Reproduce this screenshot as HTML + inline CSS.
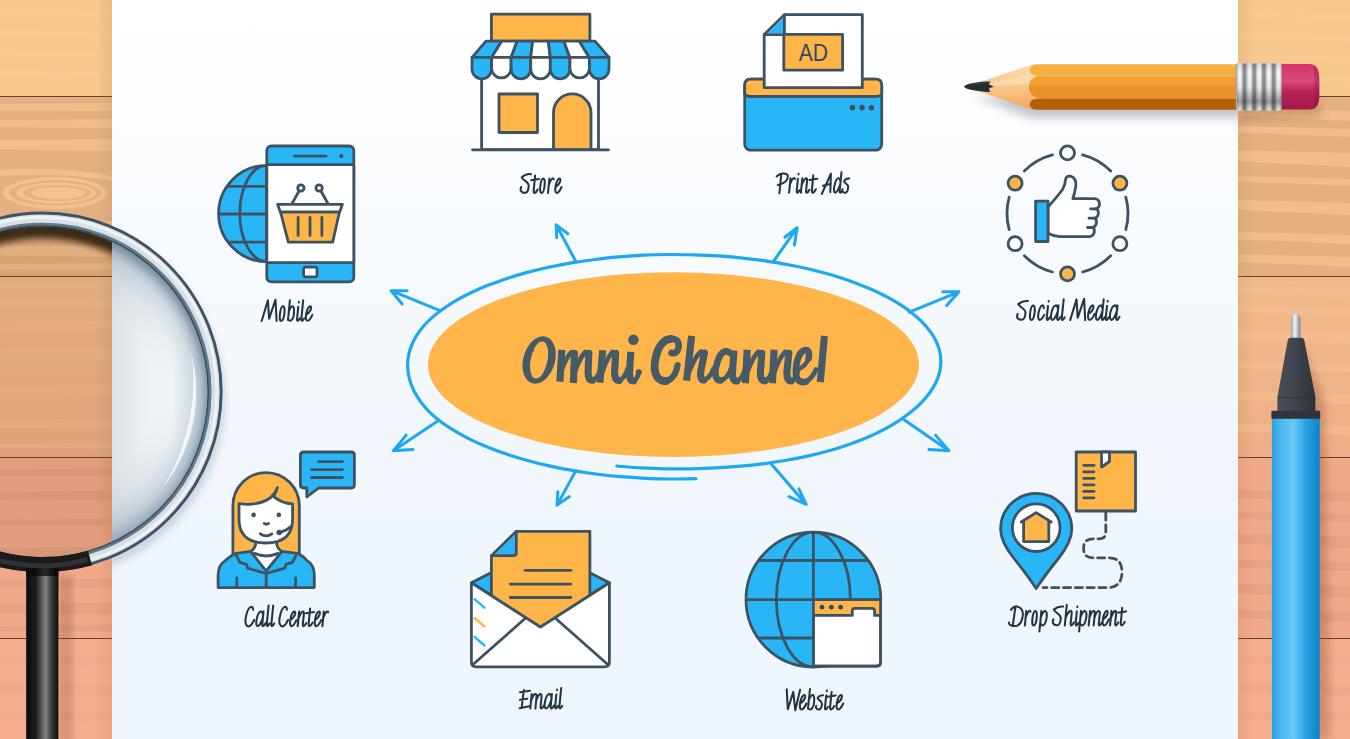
<!DOCTYPE html>
<html><head><meta charset="utf-8"><title>Omni Channel</title>
<style>
html,body{margin:0;padding:0;background:#f3b98a;overflow:hidden}
body{width:1350px;height:739px;font-family:"Liberation Sans",sans-serif}
svg{display:block}
.k{stroke:#3d5363;stroke-width:2.8;stroke-linecap:round;stroke-linejoin:round}
.o{fill:#ffb547}.b{fill:#29b6f6}.w{fill:#fff}.n{fill:none}
.ar{stroke:#1fa8f1;stroke-width:3;fill:none;stroke-linecap:round;stroke-linejoin:round}
</style></head><body>
<svg width="1350" height="739" viewBox="0 0 1350 739">
<defs>
<linearGradient id="paper" x1="0" y1="0" x2="0" y2="1">
<stop offset="0" stop-color="#ffffff"/><stop offset="0.3" stop-color="#f8fbfe"/><stop offset="0.6" stop-color="#f1f7fd"/><stop offset="1" stop-color="#eef5fd"/>
</linearGradient>
<linearGradient id="p3" x1="0" y1="0" x2="0" y2="1"><stop offset="0" stop-color="#f1bb8b"/><stop offset="1" stop-color="#f0ad87"/></linearGradient>
<linearGradient id="edgeL" x1="0" y1="0" x2="1" y2="0"><stop offset="0" stop-color="#a86b3c" stop-opacity="0"/><stop offset="1" stop-color="#a86b3c" stop-opacity="0.14"/></linearGradient>
<linearGradient id="edgeR" x1="1" y1="0" x2="0" y2="0"><stop offset="0" stop-color="#a86b3c" stop-opacity="0"/><stop offset="1" stop-color="#a86b3c" stop-opacity="0.14"/></linearGradient>
<clipPath id="paperclip"><rect x="112" y="0" width="1126" height="739"/></clipPath>
<clipPath id="woodL"><rect x="0" y="0" width="112" height="739"/></clipPath>
<clipPath id="woodR"><rect x="1238" y="0" width="112" height="739"/></clipPath>
</defs>
<rect x="0" y="0.0" width="1350" height="96.5" fill="#f7c78d"/>
<rect x="0" y="96.5" width="1350" height="180.0" fill="#e5b081"/>
<rect x="0" y="276.5" width="1350" height="181.0" fill="url(#p3)"/>
<rect x="0" y="457.5" width="1350" height="181.0" fill="#f1a98a"/>
<rect x="0" y="638.5" width="1350" height="100.5" fill="#f6ad8e"/>
<g clip-path="url(#woodL)">
<path d="M0 10.0 L112 11.5 L112 16.5 L0 14.0 Z" fill="#fad29c" opacity="0.30"/>
<path d="M0 30.0 L112 31.5 L112 38.5 L0 35.6 Z" fill="#fad29c" opacity="0.30"/>
<path d="M0 52.0 L112 53.5 L112 57.5 L0 55.2 Z" fill="#fad29c" opacity="0.30"/>
<path d="M0 70.0 L112 71.5 L112 79.5 L0 76.4 Z" fill="#fad29c" opacity="0.30"/>
<path d="M0 104.0 L112 103.0 L112 111.0 L0 110.4 Z" fill="#f3c28f" opacity="0.75"/>
<path d="M0 120.0 L112 119.0 L112 128.0 L0 127.2 Z" fill="#f3c28f" opacity="0.75"/>
<path d="M0 140.0 L112 139.0 L112 151.0 L0 149.6 Z" fill="#f3c28f" opacity="0.75"/>
<path d="M0 222.0 L112 221.0 L112 230.0 L0 229.2 Z" fill="#f3c28f" opacity="0.75"/>
<path d="M0 246.0 L112 245.0 L112 257.0 L0 255.6 Z" fill="#f3c28f" opacity="0.75"/>
<path d="M0 264.0 L112 263.0 L112 270.0 L0 269.6 Z" fill="#f3c28f" opacity="0.75"/>
<path d="M0 284.0 L112 282.5 L112 289.5 L0 289.6 Z" fill="#f6c495" opacity="0.45"/>
<path d="M0 300.0 L112 298.5 L112 308.5 L0 308.0 Z" fill="#f6c495" opacity="0.45"/>
<path d="M0 322.0 L112 320.5 L112 328.5 L0 328.4 Z" fill="#f6c495" opacity="0.45"/>
<path d="M0 350.0 L112 348.5 L112 360.5 L0 359.6 Z" fill="#f6c495" opacity="0.45"/>
<path d="M0 386.0 L112 384.5 L112 393.5 L0 393.2 Z" fill="#f6c495" opacity="0.45"/>
<path d="M0 420.0 L112 418.5 L112 428.5 L0 428.0 Z" fill="#f6c495" opacity="0.45"/>
<path d="M0 444.0 L112 442.5 L112 448.5 L0 448.8 Z" fill="#f6c495" opacity="0.45"/>
<path d="M0 470.0 L112 468.5 L112 476.5 L0 476.4 Z" fill="#d9957a" opacity="0.42"/>
<path d="M0 492.0 L112 490.5 L112 500.5 L0 500.0 Z" fill="#d9957a" opacity="0.42"/>
<path d="M0 520.0 L112 518.5 L112 525.5 L0 525.6 Z" fill="#d9957a" opacity="0.42"/>
<path d="M0 548.0 L112 546.5 L112 556.5 L0 556.0 Z" fill="#d9957a" opacity="0.42"/>
<path d="M0 580.0 L112 578.5 L112 587.5 L0 587.2 Z" fill="#d9957a" opacity="0.42"/>
<path d="M0 604.0 L112 602.5 L112 614.5 L0 613.6 Z" fill="#d9957a" opacity="0.42"/>
<path d="M0 626.0 L112 624.5 L112 631.5 L0 631.6 Z" fill="#d9957a" opacity="0.42"/>
<path d="M0 656.0 L112 657.5 L112 665.5 L0 662.4 Z" fill="#ea9f83" opacity="0.30"/>
<path d="M0 684.0 L112 685.5 L112 695.5 L0 692.0 Z" fill="#ea9f83" opacity="0.30"/>
<path d="M0 712.0 L112 713.5 L112 721.5 L0 718.4 Z" fill="#ea9f83" opacity="0.30"/>
</g>
<g clip-path="url(#woodR)">
<path d="M1238 13.0 L1350 14.5 L1350 19.5 L1238 17.0 Z" fill="#fad29c" opacity="0.30"/>
<path d="M1238 33.0 L1350 34.5 L1350 41.5 L1238 38.6 Z" fill="#fad29c" opacity="0.30"/>
<path d="M1238 55.0 L1350 56.5 L1350 60.5 L1238 58.2 Z" fill="#fad29c" opacity="0.30"/>
<path d="M1238 73.0 L1350 74.5 L1350 82.5 L1238 79.4 Z" fill="#fad29c" opacity="0.30"/>
<path d="M1238 108.0 L1350 111.0 L1350 121.0 L1238 116.0 Z" fill="#f3c28f" opacity="0.75"/>
<path d="M1238 126.0 L1350 129.0 L1350 137.0 L1238 132.4 Z" fill="#f3c28f" opacity="0.75"/>
<path d="M1238 150.0 L1350 153.0 L1350 167.0 L1238 161.2 Z" fill="#f3c28f" opacity="0.75"/>
<path d="M1238 176.0 L1350 179.0 L1350 186.0 L1238 181.6 Z" fill="#f3c28f" opacity="0.75"/>
<path d="M1238 200.0 L1350 203.0 L1350 215.0 L1238 209.6 Z" fill="#f3c28f" opacity="0.75"/>
<path d="M1238 232.0 L1350 235.0 L1350 244.0 L1238 239.2 Z" fill="#f3c28f" opacity="0.75"/>
<path d="M1238 254.0 L1350 257.0 L1350 267.0 L1238 262.0 Z" fill="#f3c28f" opacity="0.75"/>
<path d="M1238 286.0 L1350 288.0 L1350 297.0 L1238 293.2 Z" fill="#f6c495" opacity="0.45"/>
<path d="M1238 306.0 L1350 308.0 L1350 315.0 L1238 311.6 Z" fill="#f6c495" opacity="0.45"/>
<path d="M1238 330.0 L1350 332.0 L1350 344.0 L1238 339.6 Z" fill="#f6c495" opacity="0.45"/>
<path d="M1238 362.0 L1350 364.0 L1350 372.0 L1238 368.4 Z" fill="#f6c495" opacity="0.45"/>
<path d="M1238 392.0 L1350 394.0 L1350 404.0 L1238 400.0 Z" fill="#f6c495" opacity="0.45"/>
<path d="M1238 424.0 L1350 426.0 L1350 435.0 L1238 431.2 Z" fill="#f6c495" opacity="0.45"/>
<path d="M1238 490.0 L1350 492.0 L1350 502.0 L1238 498.0 Z" fill="#d9957a" opacity="0.42"/>
<path d="M1238 512.0 L1350 514.0 L1350 522.0 L1238 518.4 Z" fill="#d9957a" opacity="0.42"/>
<path d="M1238 534.0 L1350 536.0 L1350 548.0 L1238 543.6 Z" fill="#d9957a" opacity="0.42"/>
<path d="M1238 560.0 L1350 562.0 L1350 571.0 L1238 567.2 Z" fill="#d9957a" opacity="0.42"/>
<path d="M1238 584.0 L1350 586.0 L1350 598.0 L1238 593.6 Z" fill="#d9957a" opacity="0.42"/>
<path d="M1238 610.0 L1350 612.0 L1350 622.0 L1238 618.0 Z" fill="#d9957a" opacity="0.42"/>
<path d="M1238 656.0 L1350 657.5 L1350 665.5 L1238 662.4 Z" fill="#ea9f83" opacity="0.30"/>
<path d="M1238 684.0 L1350 685.5 L1350 695.5 L1238 692.0 Z" fill="#ea9f83" opacity="0.30"/>
<path d="M1238 712.0 L1350 713.5 L1350 721.5 L1238 718.4 Z" fill="#ea9f83" opacity="0.30"/>
</g>
<ellipse cx="55" cy="193" rx="52" ry="16" fill="#f3c391" opacity="0.9"/>
<ellipse cx="55" cy="193" rx="46" ry="12.5" fill="#e5b081"/>
<ellipse cx="56" cy="193" rx="40" ry="10.5" fill="#f3c391" opacity="0.95"/>
<ellipse cx="57" cy="193" rx="34" ry="8" fill="#e7b384"/>
<ellipse cx="58" cy="193" rx="27" ry="6" fill="#f3c391"/>
<path d="M0 170 Q60 166 112 176 L112 181 Q60 172 0 176 Z" fill="#f3c391" opacity="0.8"/>
<g stroke="#4a2e1c" stroke-width="1.1" opacity="0.85">
<line x1="0" y1="96.5" x2="1350" y2="96.5"/><line x1="0" y1="276.5" x2="1350" y2="276.5"/><line x1="0" y1="457.5" x2="1350" y2="457.5"/><line x1="0" y1="638.5" x2="1350" y2="638.5"/>
</g>
<rect x="96" y="0" width="16" height="739" fill="url(#edgeL)"/>
<rect x="1238" y="0" width="16" height="739" fill="url(#edgeR)"/>
<rect x="112" y="0" width="1126" height="739" fill="url(#paper)"/>
<defs>
<clipPath id="lensclip"><circle cx="42.4" cy="391.8" r="165.5"/></clipPath>
<clipPath id="lensWoodClip"><rect x="-10" y="200" width="122" height="400"/></clipPath>
<clipPath id="lensPaperClip"><rect x="112" y="200" width="130" height="400"/></clipPath>
<radialGradient id="lensPaper" cx="42.4" cy="391.8" r="165.5" gradientUnits="userSpaceOnUse">
<stop offset="0" stop-color="#ffffff"/><stop offset="0.66" stop-color="#fbfcfe"/><stop offset="0.8" stop-color="#eef2f6"/><stop offset="0.9" stop-color="#d3dde5"/><stop offset="0.96" stop-color="#b3c2ce"/><stop offset="1" stop-color="#9aacba"/>
</radialGradient>
<linearGradient id="lensEdge" x1="0" y1="0" x2="1" y2="0"><stop offset="0" stop-color="#8fa1af" stop-opacity="0.3"/><stop offset="1" stop-color="#8fa1af" stop-opacity="0"/></linearGradient>
<linearGradient id="handleG" x1="0" y1="0" x2="1" y2="0">
<stop offset="0" stop-color="#0b0b0c"/><stop offset="0.3" stop-color="#1b1c1e"/><stop offset="0.6" stop-color="#808286"/><stop offset="0.78" stop-color="#3a3b3e"/><stop offset="1" stop-color="#0d0d0e"/>
</linearGradient>
<linearGradient id="blackRingG" x1="0" y1="0" x2="1" y2="0" gradientUnits="userSpaceOnUse" x2_="95"><stop offset="0" stop-color="#1a1a1c"/><stop offset="0.55" stop-color="#3a3a3d"/><stop offset="1" stop-color="#1c1c1e"/></linearGradient>
<filter id="blur4" x="-20%" y="-20%" width="140%" height="140%"><feGaussianBlur stdDeviation="4"/></filter>
<filter id="blur6" x="-20%" y="-50%" width="140%" height="200%"><feGaussianBlur stdDeviation="5"/></filter>
<filter id="blur2" x="-20%" y="-20%" width="140%" height="140%"><feGaussianBlur stdDeviation="2"/></filter>
<filter id="blur1" x="-50%" y="-10%" width="200%" height="120%"><feGaussianBlur stdDeviation="0.7"/></filter>
<filter id="blur3" x="-10%" y="-10%" width="120%" height="120%"><feGaussianBlur stdDeviation="3.2"/></filter>
</defs>
<g id="magnifier">
<circle cx="46.4" cy="399.8" r="172.8" fill="none" stroke="#6b7f92" stroke-width="10" opacity="0.32" filter="url(#blur4)" clip-path="url(#paperclip)"/>
<g clip-path="url(#lensclip)">
<rect x="-10" y="200" width="122" height="400" fill="#7a4a24" opacity="0.13"/>
<rect x="112" y="200" width="130" height="400" fill="url(#lensPaper)"/>
<rect x="112" y="200" width="60" height="400" fill="url(#lensEdge)"/>
<g clip-path="url(#lensWoodClip)"><circle cx="42.4" cy="401.8" r="176.5" fill="none" stroke="#120a04" stroke-width="26" opacity="0.8" filter="url(#blur3)"/></g>
<g clip-path="url(#lensPaperClip)"><circle cx="40.4" cy="397.8" r="172.5" fill="none" stroke="#4f6679" stroke-width="14" opacity="0.38" filter="url(#blur3)"/></g>
<path d="M191.0 352.0 L192.8 359.8 L194.3 367.7 L195.4 375.7 L196.0 383.8 L196.2 391.8 L196.0 399.8 L195.4 407.9 L194.3 415.9 L192.8 423.8 L191.0 431.6 L188.7 439.3 L186.0 446.9 L182.9 454.4 L179.4 461.6 L175.6 468.7 L171.4 475.6 L166.8 482.2 L161.9 488.6 L161.9 488.6 L166.2 481.8 L170.2 474.8 L173.8 467.6 L177.0 460.4 L180.0 453.0 L182.6 445.6 L184.9 438.1 L187.0 430.5 L188.7 422.9 L190.2 415.2 L191.4 407.5 L192.4 399.7 L193.0 391.8 L193.3 383.9 L193.3 375.9 L192.9 368.0 L192.1 360.0 L191.0 352.0 Z" fill="#fff" opacity="0.78" filter="url(#blur1)"/>
</g>
<circle cx="42.4" cy="391.8" r="172.85" fill="none" stroke="#3f5366" stroke-width="14.7"/>
<circle cx="42.4" cy="391.8" r="167.30" fill="none" stroke="#62798a" stroke-width="3.6"/>
<circle cx="42.4" cy="391.8" r="173.20" fill="none" stroke="#d9e0e5" stroke-width="8.2"/>
<circle cx="42.4" cy="391.8" r="174.50" fill="none" stroke="#f3f6f8" stroke-width="3" opacity="0.8"/>
<circle cx="42.4" cy="391.8" r="165.90" fill="none" stroke="#2b3a46" stroke-width="1.2" opacity="0.8"/>
<path d="M90.0 558.0 A172.85 172.85 0 0 1 -22.4 552.1" fill="none" stroke="#1b1b1d" stroke-width="15.3"/>
<path d="M87.4 559.7 A173.85 173.85 0 0 1 -22.7 553.0" fill="none" stroke="#38383b" stroke-width="5" opacity="0.8"/>
<rect x="59" y="575" width="13" height="170" fill="#7a4a2c" opacity="0.28" filter="url(#blur4)"/>
<rect x="26.2" y="568" width="32.2" height="180" fill="url(#handleG)"/>
<rect x="26.2" y="568" width="32.2" height="8" fill="#0a0a0b" opacity="0.75"/>
</g>
<defs>
<linearGradient id="ferG" x1="0" y1="0" x2="0" y2="1">
<stop offset="0" stop-color="#c9cdd0"/><stop offset="0.25" stop-color="#f7f8f9"/><stop offset="0.55" stop-color="#b9bdc1"/><stop offset="0.85" stop-color="#8e9397"/><stop offset="1" stop-color="#b4b8bb"/>
</linearGradient>
<linearGradient id="eraG" x1="0" y1="0" x2="0" y2="1">
<stop offset="0" stop-color="#d4336b"/><stop offset="0.38" stop-color="#d94a7c"/><stop offset="0.6" stop-color="#b92257"/><stop offset="1" stop-color="#a01a49"/>
</linearGradient>
<linearGradient id="coneG" x1="0" y1="0" x2="0" y2="1">
<stop offset="0" stop-color="#fcdcae"/><stop offset="0.45" stop-color="#fac98e"/><stop offset="1" stop-color="#f0a75f"/>
</linearGradient>
<linearGradient id="ridgeG" x1="0" y1="0" x2="1" y2="0"><stop offset="0" stop-color="#8f9396"/><stop offset="0.3" stop-color="#e4e6e8"/><stop offset="0.55" stop-color="#ffffff"/><stop offset="0.8" stop-color="#d9dcde"/><stop offset="1" stop-color="#8f9396"/></linearGradient>
<linearGradient id="ferShade" x1="0" y1="0" x2="0" y2="1"><stop offset="0" stop-color="#000" stop-opacity="0.12"/><stop offset="0.2" stop-color="#000" stop-opacity="0"/><stop offset="0.5" stop-color="#000" stop-opacity="0.05"/><stop offset="0.82" stop-color="#000" stop-opacity="0.38"/><stop offset="1" stop-color="#000" stop-opacity="0.08"/></linearGradient>
</defs>
<g id="pencil">
<!-- shadow -->
<path d="M975 97 L1032 118 L1238 118 L1238 97 Z" fill="#858c96" opacity="0.5" filter="url(#blur6)" clip-path="url(#paperclip)"/>
<path d="M1238 100 L1318 100 L1322 116 L1238 120 Z" fill="#8a5a34" opacity="0.35" filter="url(#blur6)"/>
<!-- cone -->
<path d="M965 86.8 L1031 64.8 L1044 64.8 L1044 109.3 L1031 109.3 Z" fill="url(#coneG)"/>
<path d="M990 83 L1040 72 L1040 84 L990 86 Z" fill="#fff" opacity="0.22"/>
<path d="M963.8 86.8 Q965.5 83.5 982 81.8 L990.5 81.4 L988.6 84.3 L993.7 86.6 L988.8 88.6 L990.2 91.9 L982 91.5 Q966 90 963.8 86.8 Z" fill="#262b30"/>
<path d="M968 85 Q976 83.2 986 83" stroke="#4a5056" stroke-width="1.2" fill="none" opacity="0.7"/>
<!-- body -->
<path d="M1237.2 64.3 L1036.5 64.3 Q1029.8 64.8 1029.8 70 Q1029.8 75.3 1036.5 75.8 L1237.2 75.8 Z" fill="#f6b042"/>
<path d="M1237.2 75.8 L1040 75.8 Q1028.9 78 1028.9 87.2 Q1028.9 96.5 1040 98.7 L1237.2 98.7 Z" fill="#ea912b"/>
<path d="M1237.2 75.8 L1040 75.8 Q1030.5 77.6 1029.2 85.6 L1237.2 85.6 Z" fill="#f3a030"/>
<path d="M1237.2 98.7 L1036.5 98.7 Q1029.8 99.2 1029.8 104.2 Q1029.8 109.2 1036.5 109.7 L1237.2 109.7 Z" fill="#b26007"/>
<line x1="1040" y1="76" x2="1237" y2="76" stroke="#f8c463" stroke-width="1" opacity="0.8"/>
<!-- ferrule -->
<rect x="1237" y="63.6" width="44.8" height="46.6" fill="#8d9194"/>
<rect x="1235.8" y="63.2" width="7.6" height="47.4" rx="1.5" fill="url(#ridgeG)"/>
<rect x="1245.5" y="63.2" width="7.6" height="47.4" rx="1.5" fill="url(#ridgeG)"/>
<rect x="1255.2" y="63.2" width="7.6" height="47.4" rx="1.5" fill="url(#ridgeG)"/>
<rect x="1264.9" y="63.2" width="7.6" height="47.4" rx="1.5" fill="url(#ridgeG)"/>
<rect x="1274.6" y="63.2" width="7.6" height="47.4" rx="1.5" fill="url(#ridgeG)"/>
<rect x="1237" y="63.6" width="44.8" height="46.6" fill="url(#ferShade)"/>
<!-- eraser -->
<path d="M1281.7 63.9 L1311 63.9 Q1319.3 66 1319.3 78 L1319.3 96 Q1319.3 108 1311 109.6 L1281.7 109.6 Z" fill="url(#eraG)"/>
<path d="M1313 64.3 Q1319.3 67 1319.3 78 L1319.3 96 Q1319.3 107 1313 109.3 Q1316.5 87 1313 64.3 Z" fill="#8a1440" opacity="0.35"/>
</g>
<defs>
<linearGradient id="penG" x1="0" y1="0" x2="1" y2="0">
<stop offset="0" stop-color="#2d9fe0"/><stop offset="0.12" stop-color="#41b0ec"/><stop offset="0.45" stop-color="#6cc8f6"/><stop offset="0.7" stop-color="#2ba3e6"/><stop offset="1" stop-color="#0b82c8"/>
</linearGradient>
<linearGradient id="penConeG" x1="0" y1="0" x2="1" y2="0">
<stop offset="0" stop-color="#4a4f5a"/><stop offset="0.5" stop-color="#3d424c"/><stop offset="1" stop-color="#2e323a"/>
</linearGradient>
<linearGradient id="penTipG" x1="0" y1="0" x2="1" y2="0">
<stop offset="0" stop-color="#9ea3a8"/><stop offset="0.4" stop-color="#f2f4f5"/><stop offset="1" stop-color="#7f858b"/>
</linearGradient>
</defs>
<g id="pen">
<path d="M1300 340 L1325 400 L1330 739 L1300 739 Z" fill="#8a5030" opacity="0.35" filter="url(#blur4)"/>
<path d="M1291 319 Q1291 314 1295.7 314 Q1300.5 314 1300.5 319 L1300.5 339 L1291 339 Z" fill="url(#penTipG)"/>
<path d="M1287.7 340.5 Q1288 337.7 1291 337.7 L1301 337.7 Q1304 337.7 1304.3 340.5 L1315.4 397 L1315.4 411 L1277.4 411 L1277.4 397 Z" fill="url(#penConeG)"/>
<path d="M1277.4 397.5 L1315.4 397.5" stroke="#2a2e35" stroke-width="1" opacity="0.7"/>
<rect x="1271.4" y="410.8" width="48.8" height="8.2" rx="1" fill="#30343c"/>
<rect x="1271.9" y="418.8" width="47.8" height="325" fill="url(#penG)"/>
</g>
<g id="center">
<ellipse cx="673.5" cy="364.6" rx="245.5" ry="92.4" fill="#ffb54a"/>
<path class="ar" style="stroke-width:3.2" d="M616.8 466.0C620.9 466.3 633.1 467.4 641.4 467.9C649.7 468.3 658.0 468.6 666.3 468.8C674.6 468.9 683.0 468.9 691.3 468.8C699.6 468.7 708.0 468.4 716.2 467.9C724.4 467.5 732.6 466.9 740.7 466.2C748.8 465.5 756.8 464.6 764.6 463.6C772.4 462.5 780.2 461.4 787.7 460.0C795.3 458.7 802.7 457.2 809.8 455.6C817.0 454.0 824.0 452.2 830.8 450.3C837.5 448.3 844.1 446.3 850.3 444.0C856.6 441.8 862.6 439.5 868.3 437.0C874.0 434.5 879.5 431.9 884.6 429.1C889.7 426.4 894.6 423.6 899.1 420.6C903.5 417.7 907.7 414.7 911.5 411.6C915.3 408.5 918.8 405.3 921.9 402.1C925.0 398.9 927.7 395.6 930.1 392.3C932.4 389.0 934.4 385.6 936.0 382.2C937.6 378.9 938.8 375.5 939.6 372.1C940.4 368.7 940.9 365.3 940.9 362.0C940.9 358.6 940.6 355.2 939.8 351.9C939.1 348.5 937.9 345.2 936.4 341.9C934.9 338.6 933.0 335.3 930.7 332.1C928.4 328.9 925.7 325.7 922.7 322.6C919.7 319.5 916.3 316.4 912.5 313.4C908.8 310.4 904.7 307.5 900.3 304.7C895.8 301.8 891.1 299.1 886.0 296.4C880.9 293.7 875.5 291.2 869.9 288.7C864.2 286.3 858.2 283.9 852.0 281.7C845.8 279.5 839.3 277.3 832.6 275.3C825.9 273.4 818.9 271.5 811.8 269.8C804.7 268.0 797.3 266.4 789.8 265.0C782.3 263.6 774.5 262.2 766.7 261.1C758.9 259.9 750.9 258.9 742.9 258.1C734.8 257.2 726.6 256.5 718.4 255.9C710.2 255.4 701.9 255.0 693.6 254.8C685.3 254.5 676.9 254.5 668.6 254.5C660.3 254.6 651.9 254.8 643.6 255.2C635.4 255.6 627.1 256.2 619.0 256.9C610.8 257.6 602.7 258.4 594.8 259.5C586.8 260.5 579.0 261.6 571.3 262.9C563.6 264.2 556.1 265.7 548.8 267.3C541.4 268.9 534.2 270.6 527.3 272.4C520.4 274.3 513.6 276.3 507.2 278.4C500.7 280.5 494.5 282.8 488.5 285.1C482.6 287.4 476.9 289.9 471.5 292.5C466.1 295.0 461.0 297.7 456.3 300.4C451.5 303.2 447.1 306.0 443.0 309.0C438.9 311.9 435.1 314.9 431.7 317.9C428.3 321.0 425.3 324.1 422.6 327.3C420.0 330.5 417.6 333.8 415.6 337.1C413.7 340.5 412.0 343.9 410.8 347.4C409.5 350.9 408.6 354.5 408.1 358.1C407.6 361.7 407.5 365.4 407.8 369.1C408.1 372.7 408.7 376.5 409.8 380.2C410.8 383.9 412.3 387.6 414.1 391.3C416.0 394.9 418.3 398.6 420.9 402.1C423.6 405.7 426.6 409.2 430.0 412.6C433.5 415.9 437.3 419.1 441.5 422.3C445.7 425.4 450.2 428.3 455.1 431.2C460.0 434.1 465.2 436.9 470.6 439.6C476.1 442.3 481.9 444.9 488.0 447.3C494.0 449.8 500.4 452.1 507.0 454.3C513.6 456.5 520.4 458.6 527.5 460.5C534.5 462.5 541.8 464.3 549.2 465.9C556.7 467.6 564.4 469.1 572.1 470.4C579.9 471.8 587.9 473.0 595.9 474.0C604.0 475.1 612.2 476.0 620.4 476.7C628.7 477.4 637.0 477.9 645.4 478.3C653.8 478.7 662.2 478.9 670.6 479.0C679.1 479.0 691.7 478.7 695.9 478.7"/>
<path class="ar" d="M440.0 310.7 L391.1 290.7 M407.1 290.7 L391.1 290.7 L402.2 304.0"/>
<path class="ar" d="M575.6 261.1 L556.2 224.9 M567.8 233.8 L556.2 224.9 L556.7 237.8"/>
<path class="ar" d="M773.3 261.6 L797.1 227.8 M784.9 237.3 L797.1 227.8 L794.4 244.9"/>
<path class="ar" d="M909.3 312.2 L958.9 291.8 M942.7 291.8 L958.9 291.8 L946.7 305.6"/>
<path class="ar" d="M438.2 420.7 L393.3 450.7 M406.2 435.1 L393.3 450.7 L412.9 449.6"/>
<path class="ar" d="M575.6 471.1 L557.1 505.1 M557.8 491.8 L557.1 505.1 L569.3 496.7"/>
<path class="ar" d="M770.7 463.3 L806.2 504.4 M788.9 496.7 L806.2 504.4 L798.9 488.9"/>
<path class="ar" d="M903.3 419.3 L948.9 450.7 M928.9 449.6 L948.9 450.7 L935.6 435.1"/>
</g>
<g id="store">
<rect class="k w" x="481.6" y="70" width="116.9" height="79.6"/>
<rect class="k o" x="491.4" y="14.2" width="98.5" height="27"/>
<path class="k b" d="M486.0 41.2 L501.6 41.2 L491.6 57.4 L491.6 69.0 A9.79 9.79 0 0 1 472.0 69.0 L472.0 57.4 Z"/>
<path class="k w" d="M501.6 41.2 L517.1 41.2 L511.1 57.4 L511.1 69.0 A9.79 9.79 0 0 1 491.6 69.0 L491.6 57.4 Z"/>
<path class="k b" d="M517.1 41.2 L532.7 41.2 L530.7 57.4 L530.7 69.0 A9.79 9.79 0 0 1 511.1 69.0 L511.1 57.4 Z"/>
<path class="k w" d="M532.7 41.2 L548.3 41.2 L550.3 57.4 L550.3 69.0 A9.79 9.79 0 0 1 530.7 69.0 L530.7 57.4 Z"/>
<path class="k b" d="M548.3 41.2 L563.9 41.2 L569.9 57.4 L569.9 69.0 A9.79 9.79 0 0 1 550.3 69.0 L550.3 57.4 Z"/>
<path class="k w" d="M563.9 41.2 L579.4 41.2 L589.4 57.4 L589.4 69.0 A9.79 9.79 0 0 1 569.9 69.0 L569.9 57.4 Z"/>
<path class="k b" d="M579.4 41.2 L595.0 41.2 L609.0 57.4 L609.0 69.0 A9.79 9.79 0 0 1 589.4 69.0 L589.4 57.4 Z"/>
<line class="k" x1="472" y1="57.4" x2="609" y2="57.4"/>
<rect class="k o" x="499" y="94" width="38.5" height="38.5"/>
<path class="k o" d="M553.5 149.6 L553.5 112.7 A18.75 18.75 0 0 1 591 112.7 L591 149.6 Z"/>
<line class="k" x1="472.5" y1="149.8" x2="608.5" y2="149.8"/>
</g>
<g id="printads">
<rect class="k b" x="744.7" y="79.2" width="137" height="71" rx="6"/>
<path class="k o" d="M744.7 94 L744.7 85.2 Q744.7 79.2 750.7 79.2 L875.7 79.2 Q881.7 79.2 881.7 85.2 L881.7 94 Q880.5 96.5 876 96.5 L750.5 96.5 Q746 96.5 744.7 94 Z"/>
<path class="k w" d="M764.2 87.7 L764.2 34.6 L784.4 14.7 L862.3 14.7 L862.3 87.7 Z"/>
<path class="b" d="M767.5 33.3 L783 18 L783 33.3 Z"/>
<path class="k n" d="M764.2 34.6 L784.4 34.6 L784.4 14.7"/>
<rect class="k o" x="783.8" y="34.4" width="58.8" height="35.8"/>
<text transform="translate(813.3,60.7) scale(0.9,1)" x="0" y="0" text-anchor="middle" font-family="Liberation Sans, sans-serif" font-size="23.4" fill="#2f4a66">AD</text>
<circle cx="852.5" cy="107.6" r="2.8" fill="#3d5363"/><circle cx="862" cy="107.6" r="2.8" fill="#3d5363"/><circle cx="871.4" cy="107.6" r="2.8" fill="#3d5363"/>
</g>
<g id="social">
<path class="k n" d="M1082.6 154.8 A60.5 60.5 0 0 1 1110.7 171.0"/>
<path class="k n" d="M1125.8 197.2 A60.5 60.5 0 0 1 1125.8 229.6"/>
<path class="k n" d="M1110.7 255.8 A60.5 60.5 0 0 1 1082.6 272.0"/>
<path class="k n" d="M1052.4 272.0 A60.5 60.5 0 0 1 1024.3 255.8"/>
<path class="k n" d="M1009.2 229.6 A60.5 60.5 0 0 1 1009.2 197.2"/>
<path class="k n" d="M1024.3 171.0 A60.5 60.5 0 0 1 1052.4 154.8"/>
<circle class="k w" cx="1067.5" cy="152.9" r="7"/>
<circle class="k o" cx="1119.9" cy="183.2" r="7"/>
<circle class="k w" cx="1119.9" cy="243.7" r="7"/>
<circle class="k o" cx="1067.5" cy="273.9" r="7"/>
<circle class="k w" cx="1015.1" cy="243.7" r="7"/>
<circle class="k o" cx="1015.1" cy="183.2" r="7"/>
<path class="k w" d="M1048 207 Q1057 197 1062.5 189.5 Q1065.5 184 1065.5 179.5 Q1066.5 175.5 1070.5 176.2 Q1076.5 178 1075.8 186 Q1075 192 1072.8 198.7 L1094.5 198.7 Q1099.5 199.2 1099.5 203.8 Q1099.5 208.3 1095.5 208.8 Q1098.8 209.5 1098.3 213.8 Q1097.8 217.8 1094 218.2 Q1097 219 1096.4 223 Q1095.8 227 1092.3 227.5 Q1095 228.5 1094.3 232 Q1093.5 236.5 1089 236.7 L1060 236.7 Q1054 236.5 1048 233.2 Z"/>
<path class="k n" d="M1095.5 208.8 L1090.5 208.8 M1094 218.2 L1089 218.2 M1092.3 227.5 L1087.5 227.5"/>
<rect class="k b" x="1035.6" y="201.2" width="12.4" height="40.3"/>
</g>
<g id="drop">
<path class="k n" stroke-dasharray="7.2 4.6" d="M1105.8 513 L1105.8 532 Q1105.8 538.8 1099 538.8 L1093 538.8 Q1083.6 538.8 1083.6 548.3 Q1083.6 557.8 1093 557.8 L1109 557.8 Q1122 557.8 1122 572 Q1122 587.6 1107 587.6 L1043 587.6"/>
<rect class="k o" x="1076.2" y="452" width="59.3" height="59"/>
<path class="k w" d="M1101.6 452 L1109.5 452 L1109.5 461.5 L1101.6 467 Z"/>
<g class="k n"><line x1="1083.8" y1="465.3" x2="1094" y2="465.3"/><line x1="1083.8" y1="471.8" x2="1094" y2="471.8"/><line x1="1083.8" y1="478.3" x2="1094" y2="478.3"/><line x1="1083.8" y1="484.8" x2="1094" y2="484.8"/><line x1="1083.8" y1="491.3" x2="1094" y2="491.3"/><line x1="1083.8" y1="497.8" x2="1094" y2="497.8"/></g>
<path class="k b" d="M1036.2 588.5 Q1028 576 1014 558.5 Q1000.6 542 1000.6 529 A35.6 35.6 0 0 1 1071.8 529 Q1071.8 542 1058.4 558.5 Q1044.4 576 1036.2 588.5 Z"/>
<circle class="k w" cx="1036.2" cy="527.7" r="23.8"/>
<path class="o" d="M1023.6 541.6 L1023.6 520.5 L1036.2 512.8 L1048.8 520.5 L1048.8 541.6 Z"/>
<path class="k n" d="M1021.2 522 L1036.2 512.6 L1051.2 522 M1023.6 521.2 L1023.6 541.6 L1048.8 541.6 L1048.8 521.2"/>
</g>
<g id="website">
<defs><clipPath id="globeclip"><circle cx="813.4" cy="599.6" r="67.4"/></clipPath></defs>
<circle class="k b" cx="813.4" cy="599.6" r="67.4"/>
<g class="k n" clip-path="url(#globeclip)">
<line x1="740" y1="560.5" x2="890" y2="560.5"/><line x1="740" y1="599.7" x2="890" y2="599.7"/><line x1="740" y1="638" x2="890" y2="638"/>
<line x1="813.4" y1="530" x2="813.4" y2="668"/>
<ellipse cx="813.4" cy="599.6" rx="37" ry="67.4"/>
</g>
<path class="k w" d="M813.4 599.7 L880.6 599.7 L880.6 662 Q880.6 666.2 876.4 666.2 L813.4 666.2 Z"/>
<path class="o" d="M813.4 599.7 L880.6 599.7 L880.6 615.4 L874.6 615.4 L874.6 611 Q874.6 608.3 872 608.3 L855 608.3 Q852.3 608.3 852.3 611 L852.3 615.4 L813.4 615.4 Z"/>
<path class="k n" d="M813.4 615.4 L852.3 615.4 L852.3 611 Q852.3 608.3 855 608.3 L872 608.3 Q874.6 608.3 874.6 611 L874.6 615.4 L880.6 615.4"/>
<path class="k n" d="M813.4 599.7 L880.6 599.7 L880.6 662 Q880.6 666.2 876.4 666.2 L813.4 666.2 Z"/>
<circle cx="822" cy="607.2" r="2.4" fill="#2f4a66"/><circle cx="831.3" cy="607.2" r="2.4" fill="#2f4a66"/><circle cx="840.6" cy="607.2" r="2.4" fill="#2f4a66"/>
</g>
<g id="email">
<!-- back flap interior -->
<path class="k b" d="M471.4 582.8 L540.4 547.5 L609.4 582.8 L540.4 627 Z"/>
<!-- paper -->
<path class="k o" d="M491.4 600 L491.4 555.7 L516.3 531.3 L589.9 531.3 L589.9 600 L540.4 630 Z"/>
<path class="b" d="M494.6 554.4 L515 534.5 L515 551.5 Q515 554.4 512 554.4 Z"/>
<path class="k n" d="M491.4 555.7 L513 555.7 Q516.3 555.7 516.3 552.5 L516.3 531.3"/>
<g class="k n"><line x1="525" y1="570.4" x2="570.8" y2="570.4"/><line x1="510.3" y1="584.1" x2="570.8" y2="584.1"/><line x1="510.3" y1="597.5" x2="570.8" y2="597.5"/></g>
<!-- front body -->
<path class="k w" d="M471.4 582.8 L540.4 627 L609.4 582.8 L609.4 661.8 Q609.4 666.8 604.4 666.8 L476.4 666.8 Q471.4 666.8 471.4 661.8 Z"/>
<path class="k n" d="M473 664.5 L524.5 619 M607.8 664.5 L556.3 619"/>
<g fill="none" stroke-width="2.4" stroke-linecap="round"><line x1="474.5" y1="599.2" x2="484.5" y2="607.7" stroke="#29b6f6"/><line x1="474.5" y1="618" x2="484.5" y2="626.5" stroke="#ffb547"/><line x1="474.5" y1="636.8" x2="484.5" y2="645.5" stroke="#29b6f6"/></g>
</g>
<g id="mobile">
<defs><clipPath id="mglobeclip"><path d="M266.8 165.3 A48.2 48.2 0 0 0 266.8 261.7 Z"/></clipPath></defs>
<path class="k b" d="M266.8 165.3 A48.2 48.2 0 0 0 266.8 261.7 Z"/>
<g class="k n" clip-path="url(#mglobeclip)">
<line x1="215" y1="186.3" x2="267" y2="186.3"/><line x1="215" y1="214" x2="267" y2="214"/><line x1="215" y1="242.1" x2="267" y2="242.1"/>
<ellipse cx="266.8" cy="213.5" rx="27" ry="48.2"/>
</g>
<rect class="k b" x="266.8" y="146" width="87" height="135.8" rx="4.5"/>
<rect class="k w" x="266.8" y="164.7" width="87" height="98"/>
<line class="k" x1="294.4" y1="156.2" x2="326" y2="156.2"/>
<circle cx="341.4" cy="156.2" r="2.1" fill="#3d5363"/>
<rect class="k w" x="303.6" y="267.2" width="13.4" height="9.6" rx="2"/>
<!-- basket -->
<path class="k n" d="M298.9 191.3 L291.7 204.3 M321.1 191.3 L328.3 204.3"/>
<circle class="k w" cx="300.9" cy="188" r="3.2"/><circle class="k w" cx="319.1" cy="188" r="3.2"/>
<path class="k o" d="M280.5 211.8 L339.5 211.8 L332.7 242.1 L288.3 242.1 Z"/>
<path class="k w" d="M277.6 204.3 L342.4 204.3 L339.8 211.8 L280.2 211.8 Z"/>
<path class="k n" d="M298.1 217.5 L298.1 235.5 M310 217.5 L310 235.5 M321.9 217.5 L321.9 235.5"/>
</g>
<g id="callcenter">
<!-- speech bubble -->
<path class="k b" d="M303.6 452 L351.2 452 Q354.4 452 354.4 455.2 L354.4 484.8 Q354.4 488 351.2 488 L318.6 488 L306.8 496.8 L306.8 488 L303.6 488 Q300.4 488 300.4 484.8 L300.4 455.2 Q300.4 452 303.6 452 Z"/>
<path class="k n" d="M318.6 461.6 L342.4 461.6 M311.6 469.6 L342.4 469.6 M311.6 477.5 L342.4 477.5"/>
<!-- hair -->
<path class="k o" d="M232.9 556 L232.9 505.8 A33.2 33.2 0 0 1 299.3 505.8 L299.3 556 Z"/>
<!-- neck + V -->
<path class="w" d="M256 540 Q256 548.5 250.5 551.4 L266.2 571 L282 551.4 Q276.4 548.5 276.4 540 Z"/>
<path class="k n" d="M256 541 Q256 548.5 250.5 551.4 M276.4 541 Q276.4 548.5 282 551.4"/>
<!-- body -->
<path class="k b" d="M218.1 587.6 L218.1 575 Q218.5 564.5 225.3 560.6 Q230 556 234.7 553.7 L250.5 551.3 L266.2 571 L282 551.3 L298.6 553.7 Q303 556 307.1 560.6 Q314 564.5 314.3 575 L314.3 587.6 Z"/>
<path class="k n" d="M254.3 553.4 Q266.2 558.6 278.1 553.4"/>
<path class="k n" d="M236.4 555.4 L239.8 562.3 L246.6 564.4 L247.5 568.2 L266.2 573.5 L285 568.2 L285.8 564.4 L292.6 562.3 L296 555.4"/>
<path class="k n" d="M266.2 571.5 L266.2 587 M236.8 578 L236.8 586.8 M295.6 578 L295.6 586.8"/>
<!-- face -->
<path class="k w" d="M239 503.6 Q258.5 506.5 270.8 497.5 Q275.5 493 277.4 487.6 Q275.4 493.5 273.7 496.7 Q282 503.5 292.6 504 L292.6 519 Q292.6 543 265.8 543 Q239 543 239 519 Z"/>
<circle cx="253.6" cy="514.9" r="2.3" fill="#3d5363"/><circle cx="278.8" cy="514.9" r="2.3" fill="#3d5363"/>
<path class="k n" d="M264.2 523.4 Q266.4 525 268.6 523.4"/>
<path class="k n" d="M260.3 533.8 Q266 538 271.9 533.8"/>
<path class="k n" d="M279.5 532.3 Q286 531 291 526.5"/>
<circle cx="279.2" cy="532.5" r="2.8" fill="#3d5363"/>
</g>
<g id="title" fill="none" stroke="#465a68" stroke-linejoin="round" stroke-linecap="round">
<g transform="translate(539.1,360) skewX(-9.3)"><path fill="#465a68" stroke="none" fill-rule="evenodd" d="M-16.2 0 A16.2 23.8 0 1 0 16.2 0 A16.2 23.8 0 1 0 -16.2 0 Z M-8.5 0 A8.5 18.6 0 1 0 8.5 0 A8.5 18.6 0 1 0 -8.5 0 Z"/></g>
<path stroke-width="2.2" stroke-linecap="butt" d="M530.5 351.3 L534 350"/>
<path stroke-linecap="butt" stroke-width="7.1" d="M561.8 349.9 L559.9 381.8"/>
<path stroke-width="4.7" d="M561 372 Q565.5 358.5 571.2 352.4"/>
<path stroke-width="7.1" d="M574.4 353.4 L574 370"/>
<path stroke-linecap="butt" stroke-width="7.1" d="M574.1 366.0 L573.4 383.0"/>
<path stroke-width="4.7" d="M574.8 372 Q579.5 358 585.4 352"/>
<path stroke-width="7.1" d="M588.8 353.2 L588.1 372 Q588 380.2 592.3 380.3"/>
<path stroke-width="4.7" d="M591.3 380.7 Q597 380 601 368.6"/>
<path stroke-linecap="butt" stroke-width="7.1" d="M602.7 350.3 L599.9 382.6"/>
<path stroke-width="4.7" d="M602.3 372 Q607 358 612.4 352"/>
<path stroke-width="7.1" d="M615.7 353.2 L614.6 372 Q614.5 380.4 619.2 380.5"/>
<path stroke-width="4.7" d="M618.2 380.9 Q624 380 627.6 368.6"/>
<path stroke-linecap="butt" stroke-width="7.1" d="M630.8 351.9 L629.6 371.0"/>
<path stroke-width="7.1" d="M629.6 369 L629.4 373 Q629.3 380.8 633.6 380.9"/>
<path stroke-width="4.7" d="M632.8 381.2 Q637.3 380 638.9 372"/>
<circle cx="638.8" cy="372.2" r="3" fill="#465a68" stroke="none"/>
<circle cx="633.4" cy="339.7" r="5.2" fill="#465a68" stroke="none"/>
<path stroke-width="6.6" d="M671.5 352.8 Q676.5 354.5 678.5 348 Q680 339 671 338.8"/>
<path stroke-width="7.8" d="M671 338.8 Q660.5 339.5 656 356 Q652.5 371 657.5 377.5 Q661.5 381.5 666 381"/>
<path stroke-width="6.2" d="M666 381 Q671 380 674.5 374.5 Q676.8 370.5 677.6 365"/>
<path stroke-linecap="butt" stroke-width="7.1" d="M691.6 335.8 L686.6 380.6"/>
<path stroke-width="4.7" d="M690 370 Q695 356.5 701 351.6"/>
<path stroke-width="7.1" d="M704.5 353 L700.8 371 Q699.6 379.6 703.8 380"/>
<path stroke-width="4.7" d="M703 380.4 Q709 379.8 713.6 368.7"/>
<path stroke-width="6.6" d="M729.8 352.8 Q727.5 351 725.5 351.3 Q719 352.5 715.8 368 Q714 380.3 720.5 380.4"/>
<path stroke-width="4.7" d="M720 380.6 Q727.5 379.5 732 366.5"/>
<path stroke-linecap="butt" stroke-width="7.1" d="M733.9 350.6 L732.6 371.0"/>
<path stroke-width="7.1" d="M732.6 369 L732.4 373.5 Q732.3 381.1 736.8 381.1"/>
<path stroke-width="4.7" d="M736 381.4 Q741.5 380.3 745.6 368.4"/>
<path stroke-linecap="butt" stroke-width="7.1" d="M747.2 349.7 L745.4 383.2"/>
<path stroke-width="4.7" d="M747.3 372 Q752.5 357.5 758.2 351.8"/>
<path stroke-width="7.1" d="M761.8 353.2 L760.4 372.5 Q760.2 380.8 764.8 380.9"/>
<path stroke-width="4.7" d="M764 381.3 Q769.5 380.3 772.6 369.4"/>
<path stroke-linecap="butt" stroke-width="7.1" d="M774.1 349.7 L772.4 383.2"/>
<path stroke-width="4.7" d="M774.3 372 Q779.5 357.5 785.2 351.8"/>
<path stroke-width="7.1" d="M788.8 353.2 L786.9 372.5 Q786.6 380.8 791.3 380.9"/>
<path stroke-width="4.7" d="M790.5 381.3 Q795.5 380.3 798 370.4"/>
<path stroke-width="4.4" d="M797.4 369.8 Q806 366 808.6 358.5"/>
<path stroke-width="6.6" d="M808.6 358.5 Q810.3 350 805.5 350 Q799.5 350.6 796.7 363 Q794.6 374.5 797.6 379.3 Q801 383.2 806 381.6"/>
<path stroke-width="4.7" d="M805.5 381.8 Q812.5 378.5 816 369.4"/>
<path stroke-linecap="butt" stroke-width="7.1" d="M824.4 335.9 L820.3 382.1"/>
</g>
<g id="labels" fill="none" stroke="#223542" stroke-width="2.05" stroke-linecap="round" stroke-linejoin="round">
<path d="M 531.0 174.2 Q 526.3 173.4 521.7 177.2 Q 522.0 178.4 525.0 180.6 Q 528.8 183.4 528.7 185.9 Q 528.4 191.6 526.1 192.6 Q 522.6 193.6 520.8 190.7 Q 520.4 188.6 521.2 186.9 M 535.1 175.5 L 533.7 190.5 Q 533.5 193.0 534.6 193.0 Q 536.2 192.6 537.7 189.5 M 531.2 180.2 L 539.1 179.0 M 543.2 178.5 C 540.7 178.5 538.6 193.0 541.5 193.0 C 544.5 193.0 546.1 178.5 543.2 178.5 Z M 549.4 178.5 L 548.0 193.0 M 548.8 185.0 Q 550.7 179.6 552.5 178.5 Q 553.3 178.2 553.8 179.2 M 555.6 186.7 Q 559.2 185.0 560.3 181.0 Q 560.6 178.4 559.3 178.5 Q 557.1 179.0 555.7 185.5 Q 554.4 193.0 556.9 193.0 Q 559.0 192.8 561.5 187.0"/>
<path d="M 781.2 174.7 L 779.4 193.3 M 776.6 176.4 Q 779.9 173.3 783.4 173.6 Q 787.7 173.9 787.8 176.1 Q 787.9 180.2 783.9 182.7 Q 780.8 184.5 777.8 185.0 M 790.5 178.2 L 789.1 192.7 M 789.9 184.7 Q 791.8 179.3 793.7 178.2 Q 794.5 177.9 795.0 178.9 M 797.9 178.7 L 796.8 190.5 Q 796.5 192.7 797.5 192.7 Q 798.5 192.4 799.5 190.1 M 798.5 174.4 L 798.6 173.8 M 802.3 178.2 L 800.9 192.7 M 801.6 185.2 Q 803.7 179.5 805.8 178.3 Q 807.3 177.9 807.1 180.3 L 806.1 190.5 Q 805.8 192.7 806.9 192.7 Q 808.1 192.4 809.4 189.7 M 813.3 175.2 L 811.9 190.2 Q 811.6 192.7 812.8 192.7 Q 814.4 192.3 815.9 189.2 M 809.4 179.9 L 817.3 178.7 M 821.8 194.0 L 830.9 173.6 L 830.3 192.1 M 822.9 185.7 L 830.9 183.8 M 840.3 180.9 Q 840.0 178.1 838.4 178.2 Q 835.8 178.7 834.3 186.2 Q 833.3 192.7 835.4 192.7 Q 837.6 192.1 840.1 184.7 M 841.5 172.2 L 839.7 190.5 Q 839.5 192.7 840.5 192.7 Q 841.5 192.4 842.5 189.9 M 849.1 178.4 Q 846.2 178.1 844.1 180.9 Q 844.1 182.1 845.7 183.3 Q 848.1 185.1 848.2 187.0 Q 848.0 191.7 845.6 192.7 Q 843.4 193.1 842.5 191.1 Q 842.1 189.9 842.6 189.1"/>
<path d="M 261.7 321.0 L 267.9 300.3 L 269.1 318.7 L 275.5 299.7 L 276.6 321.0 M 283.0 306.3 C 280.4 306.3 278.2 320.8 281.1 320.8 C 284.3 320.8 286.0 306.3 283.0 306.3 Z M 289.9 300.3 L 288.0 320.0 M 288.0 319.4 Q 289.3 321.1 290.9 320.6 Q 293.4 319.0 294.0 313.3 Q 294.4 307.2 292.9 306.3 Q 291.0 306.0 288.8 311.3 M 298.2 306.8 L 297.1 318.6 Q 296.8 320.8 297.8 320.8 Q 298.8 320.5 299.9 318.2 M 298.8 302.5 L 298.9 301.9 M 303.2 300.3 L 301.4 318.6 Q 301.2 320.8 302.2 320.8 Q 303.2 320.5 304.2 318.2 M 306.2 314.5 Q 309.9 312.8 311.0 308.8 Q 311.4 306.2 310.1 306.3 Q 307.8 306.8 306.3 313.3 Q 305.0 320.8 307.6 320.8 Q 309.8 320.6 312.3 314.8"/>
<path d="M 1027.9 301.1 Q 1023.0 300.3 1018.2 304.1 Q 1018.5 305.3 1021.6 307.5 Q 1025.6 310.3 1025.5 312.8 Q 1025.1 318.5 1022.7 319.5 Q 1019.1 320.5 1017.2 317.6 Q 1016.8 315.5 1017.7 313.8 M 1033.2 305.4 C 1030.6 305.4 1028.4 319.9 1031.4 319.9 C 1034.6 319.9 1036.2 305.4 1033.2 305.4 Z M 1043.8 308.3 Q 1043.7 305.3 1042.2 305.4 Q 1040.0 305.9 1038.5 312.9 Q 1037.4 319.9 1039.8 319.9 Q 1042.0 319.6 1044.3 314.9 M 1048.0 305.9 L 1046.8 317.7 Q 1046.6 319.9 1047.6 319.9 Q 1048.6 319.6 1049.7 317.3 M 1048.6 301.6 L 1048.7 301.0 M 1057.8 308.1 Q 1057.5 305.3 1055.7 305.4 Q 1052.8 305.9 1051.3 313.4 Q 1050.2 319.9 1052.6 319.9 Q 1055.1 319.3 1057.6 311.9 M 1058.5 305.4 L 1057.2 317.7 Q 1057.0 319.9 1058.1 319.9 Q 1059.3 319.6 1060.5 316.9 M 1063.7 299.4 L 1061.8 317.7 Q 1061.6 319.9 1062.6 319.9 Q 1063.6 319.6 1064.7 317.3 M 1070.2 320.1 L 1076.5 299.4 L 1077.7 317.8 L 1084.1 298.8 L 1085.2 320.1 M 1088.4 313.6 Q 1092.2 311.9 1093.3 307.9 Q 1093.7 305.3 1092.4 305.4 Q 1090.0 305.9 1088.5 312.4 Q 1087.2 319.9 1089.8 319.9 Q 1092.0 319.7 1094.6 313.9 M 1102.4 308.1 Q 1102.1 305.3 1100.5 305.4 Q 1097.8 305.9 1096.2 313.4 Q 1095.2 319.9 1097.4 319.9 Q 1099.7 319.3 1102.2 311.9 M 1103.7 299.4 L 1101.8 317.7 Q 1101.6 319.9 1102.6 319.9 Q 1103.6 319.6 1104.7 317.1 M 1107.0 305.9 L 1105.8 317.7 Q 1105.6 319.9 1106.6 319.9 Q 1107.6 319.6 1108.7 317.3 M 1107.6 301.6 L 1107.7 301.0 M 1116.8 308.1 Q 1116.5 305.3 1114.7 305.4 Q 1111.8 305.9 1110.2 313.4 Q 1109.2 319.9 1111.6 319.9 Q 1114.1 319.3 1116.6 311.9 M 1117.5 305.4 L 1116.2 317.7 Q 1116.0 319.9 1117.1 319.9 Q 1118.3 319.6 1119.5 316.9"/>
<path d="M 253.1 609.8 Q 253.0 606.5 250.8 606.9 Q 247.6 608.1 245.7 617.8 Q 244.5 626.1 248.8 626.4 Q 251.5 625.9 254.1 620.0 M 262.9 614.3 Q 262.6 611.5 260.8 611.6 Q 258.1 612.1 256.6 619.6 Q 255.5 626.1 257.9 626.1 Q 260.2 625.5 262.7 618.1 M 263.5 611.6 L 262.3 623.9 Q 262.1 626.1 263.2 626.1 Q 264.4 625.8 265.5 623.1 M 268.6 605.6 L 266.8 623.9 Q 266.6 626.1 267.5 626.1 Q 268.5 625.8 269.5 623.5 M 273.2 605.6 L 271.4 623.9 Q 271.2 626.1 272.2 626.1 Q 273.2 625.8 274.2 623.5 M 286.9 609.8 Q 286.9 606.5 284.7 606.9 Q 281.5 608.1 279.6 617.8 Q 278.4 626.1 282.7 626.4 Q 285.4 625.9 288.0 620.0 M 290.4 619.8 Q 294.1 618.1 295.1 614.1 Q 295.5 611.5 294.2 611.6 Q 291.9 612.1 290.5 618.6 Q 289.2 626.1 291.7 626.1 Q 293.9 625.9 296.4 620.1 M 299.1 611.6 L 297.7 626.1 M 298.5 618.6 Q 300.6 612.9 302.6 611.7 Q 304.1 611.3 303.9 613.7 L 302.9 623.9 Q 302.7 626.1 303.7 626.1 Q 304.9 625.8 306.2 623.1 M 310.1 608.6 L 308.6 623.6 Q 308.4 626.1 309.5 626.1 Q 311.1 625.7 312.6 622.6 M 306.1 613.3 L 314.0 612.1 M 315.1 619.8 Q 318.7 618.1 319.8 614.1 Q 320.2 611.5 318.9 611.6 Q 316.6 612.1 315.2 618.6 Q 313.9 626.1 316.4 626.1 Q 318.6 625.9 321.1 620.1 M 323.8 611.6 L 322.4 626.1 M 323.2 618.1 Q 325.1 612.7 326.9 611.6 Q 327.7 611.3 328.2 612.3"/>
<path d="M 1015.3 607.8 L 1012.8 625.4 M 1010.9 609.8 Q 1013.8 606.0 1017.0 606.4 Q 1023.1 607.8 1022.9 614.7 Q 1022.1 624.0 1017.0 625.8 Q 1012.2 626.8 1009.6 624.4 Q 1008.9 623.4 1009.1 622.5 M 1026.2 610.9 L 1024.9 625.4 M 1025.6 617.4 Q 1027.5 612.0 1029.3 610.9 Q 1030.0 610.6 1030.5 611.6 M 1035.3 610.9 C 1032.9 610.9 1030.7 625.4 1033.6 625.4 C 1036.6 625.4 1038.2 610.9 1035.3 610.9 Z M 1041.4 610.9 L 1039.4 631.4 M 1040.8 617.4 Q 1042.8 611.8 1045.0 610.9 Q 1047.4 611.0 1046.6 617.9 Q 1045.6 624.4 1043.0 625.4 Q 1041.3 625.6 1040.2 623.0 M 1063.0 606.6 Q 1058.4 605.8 1053.8 609.6 Q 1054.1 610.8 1057.1 613.0 Q 1060.8 615.8 1060.8 618.3 Q 1060.4 624.0 1058.2 625.0 Q 1054.7 626.0 1052.9 623.1 Q 1052.6 621.0 1053.4 619.3 M 1066.8 604.9 L 1064.8 625.4 M 1065.6 617.9 Q 1067.8 612.2 1070.2 611.0 Q 1071.9 610.6 1071.7 613.0 L 1070.7 623.2 Q 1070.5 625.4 1071.5 625.4 Q 1072.6 625.1 1073.8 622.4 M 1076.8 611.4 L 1075.7 623.2 Q 1075.5 625.4 1076.4 625.4 Q 1077.4 625.1 1078.4 622.8 M 1077.3 607.1 L 1077.4 606.5 M 1081.0 610.9 L 1079.1 631.4 M 1080.4 617.4 Q 1082.4 611.8 1084.6 610.9 Q 1087.1 611.0 1086.2 617.9 Q 1085.2 624.4 1082.7 625.4 Q 1080.9 625.6 1079.9 623.0 M 1090.1 610.9 L 1088.7 625.4 M 1089.4 617.9 Q 1091.3 612.2 1093.1 611.0 Q 1095.1 610.6 1094.8 613.0 L 1093.7 625.4 M 1094.4 617.9 Q 1096.2 612.2 1098.1 611.0 Q 1100.0 610.6 1099.8 613.0 L 1098.8 623.2 Q 1098.6 625.4 1099.6 625.4 Q 1100.7 625.1 1101.9 622.4 M 1103.0 619.1 Q 1106.5 617.4 1107.6 613.4 Q 1107.9 610.8 1106.7 610.9 Q 1104.5 611.4 1103.1 617.9 Q 1101.8 625.4 1104.3 625.4 Q 1106.4 625.2 1108.8 619.4 M 1111.5 610.9 L 1110.1 625.4 M 1110.9 617.9 Q 1112.9 612.2 1114.9 611.0 Q 1116.4 610.6 1116.2 613.0 L 1115.2 623.2 Q 1115.0 625.4 1116.0 625.4 Q 1117.2 625.1 1118.4 622.4 M 1122.2 607.9 L 1120.8 622.9 Q 1120.6 625.4 1121.7 625.4 Q 1123.3 625.0 1124.7 621.9 M 1118.4 612.6 L 1126.1 611.4"/>
<path d="M 523.8 690.0 L 521.6 708.0 M 520.1 692.3 L 530.0 690.8 M 520.0 699.8 L 527.3 698.8 M 519.6 708.3 L 529.1 706.2 M 531.7 694.0 L 530.3 708.5 M 531.0 701.0 Q 533.0 695.3 534.8 694.1 Q 536.8 693.7 536.6 696.1 L 535.4 708.5 M 536.1 701.0 Q 538.0 695.3 539.9 694.1 Q 541.8 693.7 541.6 696.1 L 540.6 706.3 Q 540.4 708.5 541.5 708.5 Q 542.6 708.2 543.8 705.5 M 551.2 696.7 Q 550.9 693.9 549.2 694.0 Q 546.4 694.5 544.9 702.0 Q 543.9 708.5 546.2 708.5 Q 548.6 707.9 551.1 700.5 M 551.9 694.0 L 550.7 706.3 Q 550.5 708.5 551.6 708.5 Q 552.7 708.2 553.9 705.5 M 556.3 694.5 L 555.2 706.3 Q 554.9 708.5 555.9 708.5 Q 556.9 708.2 557.9 705.9 M 556.9 690.2 L 557.0 689.6 M 561.2 688.0 L 559.4 706.3 Q 559.2 708.5 560.2 708.5 Q 561.2 708.2 562.2 705.9"/>
<path d="M 786.7 689.2 L 787.8 709.2 L 793.3 691.9 L 795.3 710.3 L 800.1 689.7 M 800.2 703.2 Q 804.0 701.5 805.1 697.5 Q 805.5 694.9 804.2 695.0 Q 801.8 695.5 800.3 702.0 Q 798.9 709.5 801.6 709.5 Q 803.8 709.3 806.4 703.5 M 810.0 689.0 L 808.0 708.7 M 808.0 708.1 Q 809.3 709.8 810.9 709.3 Q 813.6 707.7 814.1 702.0 Q 814.6 695.9 813.0 695.0 Q 811.0 694.7 808.8 700.0 M 823.0 695.2 Q 819.9 694.9 817.7 697.7 Q 817.7 698.9 819.4 700.1 Q 821.9 701.9 822.0 703.8 Q 821.8 708.5 819.3 709.5 Q 817.0 709.9 816.1 707.9 Q 815.7 706.7 816.2 705.9 M 826.2 695.5 L 825.0 707.3 Q 824.8 709.5 825.8 709.5 Q 826.8 709.2 827.9 706.9 M 826.8 691.2 L 826.9 690.6 M 831.6 692.0 L 830.1 707.0 Q 829.9 709.5 831.1 709.5 Q 832.7 709.1 834.3 706.0 M 827.5 696.7 L 835.8 695.5 M 836.9 703.2 Q 840.7 701.5 841.9 697.5 Q 842.2 694.9 840.9 695.0 Q 838.5 695.5 837.0 702.0 Q 835.7 709.5 838.3 709.5 Q 840.6 709.3 843.2 703.5"/>
</g>

</svg>
</body></html>
